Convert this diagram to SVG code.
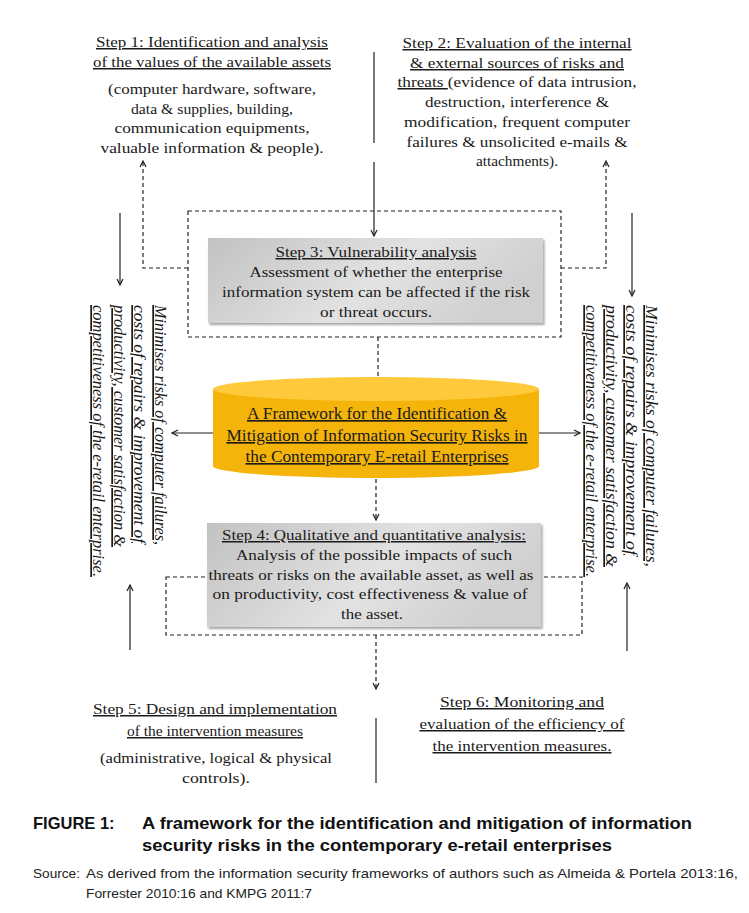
<svg xmlns="http://www.w3.org/2000/svg" width="749" height="913" viewBox="0 0 749 913">
<style>
.g{font-family:"Liberation Serif","Times New Roman",serif;font-size:15px;fill:#1a1a1a;text-anchor:middle}
.gc{font-family:"Liberation Serif","Times New Roman",serif;font-size:16.5px;fill:#1a1a1a;text-anchor:middle}
.u{text-decoration:underline}
.side{font-family:"Liberation Serif","Times New Roman",serif;font-style:italic;font-size:17px;fill:#1a1a1a;text-decoration:underline}
.cap{font-family:"Liberation Sans",Arial,sans-serif;font-weight:bold;font-size:16.5px;fill:#111}
.src{font-family:"Liberation Sans",Arial,sans-serif;font-size:13px;fill:#222}
.solid{fill:none;stroke:#222;stroke-width:1.2}
.dash{fill:none;stroke:#222;stroke-width:1.2;stroke-dasharray:4 3}
</style>
<defs>
<marker id="arr" viewBox="0 0 8 8" refX="7" refY="4" markerWidth="8" markerHeight="8" markerUnits="userSpaceOnUse" orient="auto">
<path d="M1,1 L7,4 L1,7" fill="none" stroke="#222" stroke-width="1.2" stroke-dasharray="none"/>
</marker>
<linearGradient id="grey" x1="0" y1="0" x2="1" y2="0.3">
<stop offset="0" stop-color="#c2c2c2"/>
<stop offset="0.6" stop-color="#e2e2e2"/>
<stop offset="1" stop-color="#d0d0d0"/>
</linearGradient>
<filter id="sh" x="-5%" y="-10%" width="115%" height="130%">
<feDropShadow dx="1.5" dy="2" stdDeviation="1" flood-color="#000" flood-opacity="0.35"/>
</filter>
</defs>

<g id="connectors">
<line class="solid" x1="374" y1="52" x2="374" y2="143"/>
<line class="solid" x1="374" y1="162" x2="374" y2="236" marker-end="url(#arr)"/>
<path class="dash" d="M188,268 H143 V161" marker-end="url(#arr)"/>
<path class="dash" d="M561,268 H606 V161" marker-end="url(#arr)"/>
<rect class="dash" x="188" y="211" width="373" height="126"/>
<line class="dash" x1="378" y1="337" x2="378" y2="378"/>
<line class="solid" x1="213" y1="433" x2="172" y2="433" marker-end="url(#arr)"/>
<line class="solid" x1="539" y1="433" x2="580" y2="433" marker-end="url(#arr)"/>
<line class="dash" x1="376" y1="479" x2="376" y2="520" marker-end="url(#arr)"/>
<rect class="dash" x="166" y="577" width="416" height="58"/>
<line class="dash" x1="376" y1="635" x2="376" y2="689" marker-end="url(#arr)"/>
<line class="solid" x1="376" y1="718" x2="376" y2="783"/>
<line class="solid" x1="120" y1="213" x2="120" y2="285" marker-end="url(#arr)"/>
<line class="solid" x1="130" y1="650" x2="130" y2="585" marker-end="url(#arr)"/>
<line class="solid" x1="632" y1="213" x2="632" y2="296" marker-end="url(#arr)"/>
<line class="solid" x1="627" y1="651" x2="627" y2="583" marker-end="url(#arr)"/>
</g>

<g id="step1">
<text class="g u" x="212" y="47" textLength="232" lengthAdjust="spacingAndGlyphs">Step 1: Identification and analysis</text>
<text class="g u" x="212" y="67" textLength="238" lengthAdjust="spacingAndGlyphs">of the values of the available assets</text>
<text class="g" x="212" y="94" textLength="208" lengthAdjust="spacingAndGlyphs">(computer hardware, software,</text>
<text class="g" x="212" y="114" textLength="162" lengthAdjust="spacingAndGlyphs">data &amp; supplies, building,</text>
<text class="g" x="212" y="133" textLength="195" lengthAdjust="spacingAndGlyphs">communication equipments,</text>
<text class="g" x="212" y="153" textLength="223" lengthAdjust="spacingAndGlyphs">valuable information &amp; people).</text>
</g>

<g id="step2">
<text class="g u" x="517" y="48" textLength="229" lengthAdjust="spacingAndGlyphs">Step 2: Evaluation of the internal</text>
<text class="g u" x="517" y="68" textLength="214" lengthAdjust="spacingAndGlyphs">&amp; external sources of risks and</text>
<text class="g" x="517" y="87" textLength="239" lengthAdjust="spacingAndGlyphs"><tspan class="u">threats </tspan>(evidence of data intrusion,</text>
<text class="g" x="517" y="107" textLength="184" lengthAdjust="spacingAndGlyphs">destruction, interference &amp;</text>
<text class="g" x="517" y="127" textLength="226" lengthAdjust="spacingAndGlyphs">modification, frequent computer</text>
<text class="g" x="517" y="147" textLength="221" lengthAdjust="spacingAndGlyphs">failures &amp; unsolicited e-mails &amp;</text>
<text class="g" x="517" y="166" textLength="82" lengthAdjust="spacingAndGlyphs">attachments).</text>
</g>

<g id="step3">
<rect x="208" y="238" width="335" height="85" fill="url(#grey)" filter="url(#sh)"/>
<text class="g u" x="376" y="257" textLength="201" lengthAdjust="spacingAndGlyphs">Step 3: Vulnerability analysis</text>
<text class="g" x="376" y="277" textLength="253" lengthAdjust="spacingAndGlyphs">Assessment of whether the enterprise</text>
<text class="g" x="376" y="297" textLength="308" lengthAdjust="spacingAndGlyphs">information system can be affected if the risk</text>
<text class="g" x="376" y="317" textLength="112" lengthAdjust="spacingAndGlyphs">or threat occurs.</text>
</g>

<g id="framework">
<path d="M213,389 L213,466 A163,12 0 0 0 539,466 L539,389 Z" fill="#f5b40a"/>
<ellipse cx="376" cy="389" rx="163" ry="12" fill="#fec93a"/>
<text class="gc u" x="377" y="419" textLength="260" lengthAdjust="spacingAndGlyphs">A Framework for the Identification &amp;</text>
<text class="gc u" x="377" y="441" textLength="301" lengthAdjust="spacingAndGlyphs">Mitigation of Information Security Risks in</text>
<text class="gc u" x="377" y="462" textLength="263" lengthAdjust="spacingAndGlyphs">the Contemporary E-retail Enterprises</text>
</g>

<g id="step4">
<rect x="207" y="523" width="334" height="104" fill="url(#grey)" filter="url(#sh)"/>
<text class="g u" x="374" y="540" textLength="304" lengthAdjust="spacingAndGlyphs">Step 4: Qualitative and quantitative analysis:</text>
<text class="g" x="374" y="560" textLength="276" lengthAdjust="spacingAndGlyphs">Analysis of the possible impacts of such</text>
<text class="g" x="371" y="580" textLength="325" lengthAdjust="spacingAndGlyphs">threats or risks on the available asset, as well as</text>
<text class="g" x="370" y="599" textLength="315" lengthAdjust="spacingAndGlyphs">on productivity, cost effectiveness &amp; value of</text>
<text class="g" x="372" y="619" textLength="62" lengthAdjust="spacingAndGlyphs">the asset.</text>
</g>

<g id="outcome-left">
<text class="side" transform="translate(155,305) rotate(90)" textLength="240" lengthAdjust="spacingAndGlyphs">Minimises risks of computer failures,</text>
<text class="side" transform="translate(134,305) rotate(90)" textLength="238" lengthAdjust="spacingAndGlyphs">costs of repairs &amp; improvement of</text>
<text class="side" transform="translate(114,305) rotate(90)" textLength="242" lengthAdjust="spacingAndGlyphs">productivity, customer satisfaction &amp;</text>
<text class="side" transform="translate(93,305) rotate(90)" textLength="272" lengthAdjust="spacingAndGlyphs">competitiveness of the e-retail enterprise.</text>
</g>

<g id="outcome-right">
<text class="side" transform="translate(646,305) rotate(90)" textLength="262" lengthAdjust="spacingAndGlyphs">Minimises risks of computer failures,</text>
<text class="side" transform="translate(626,305) rotate(90)" textLength="250" lengthAdjust="spacingAndGlyphs">costs of repairs &amp; improvement of</text>
<text class="side" transform="translate(606,305) rotate(90)" textLength="262" lengthAdjust="spacingAndGlyphs">productivity, customer satisfaction &amp;</text>
<text class="side" transform="translate(586,305) rotate(90)" textLength="272" lengthAdjust="spacingAndGlyphs">competitiveness of the e-retail enterprise.</text>
</g>

<g id="step5">
<text class="g u" x="215" y="714" textLength="244" lengthAdjust="spacingAndGlyphs">Step 5: Design and implementation</text>
<text class="g u" x="215" y="736" textLength="176" lengthAdjust="spacingAndGlyphs">of the intervention measures</text>
<text class="g" x="216" y="763" textLength="232" lengthAdjust="spacingAndGlyphs">(administrative, logical &amp; physical</text>
<text class="g" x="216" y="783" textLength="68" lengthAdjust="spacingAndGlyphs">controls).</text>
</g>

<g id="step6">
<text class="g u" x="522" y="707" textLength="164" lengthAdjust="spacingAndGlyphs">Step 6: Monitoring and</text>
<text class="g u" x="522" y="729" textLength="205" lengthAdjust="spacingAndGlyphs">evaluation of the efficiency of</text>
<text class="g u" x="522" y="751" textLength="179" lengthAdjust="spacingAndGlyphs">the intervention measures.</text>
</g>

<g id="caption">
<text class="cap" x="33" y="829">FIGURE 1:</text>
<text class="cap" x="142" y="829" textLength="550" lengthAdjust="spacingAndGlyphs">A framework for the identification and mitigation of information</text>
<text class="cap" x="142" y="851" textLength="470" lengthAdjust="spacingAndGlyphs">security risks in the contemporary e-retail enterprises</text>
<text class="src" x="33" y="878" textLength="47" lengthAdjust="spacingAndGlyphs">Source:</text>
<text class="src" x="86" y="878" textLength="652" lengthAdjust="spacingAndGlyphs">As derived from the information security frameworks of authors such as Almeida &amp; Portela 2013:16,</text>
<text class="src" x="86" y="898" textLength="226" lengthAdjust="spacingAndGlyphs">Forrester 2010:16 and KMPG 2011:7</text>
</g>
</svg>
